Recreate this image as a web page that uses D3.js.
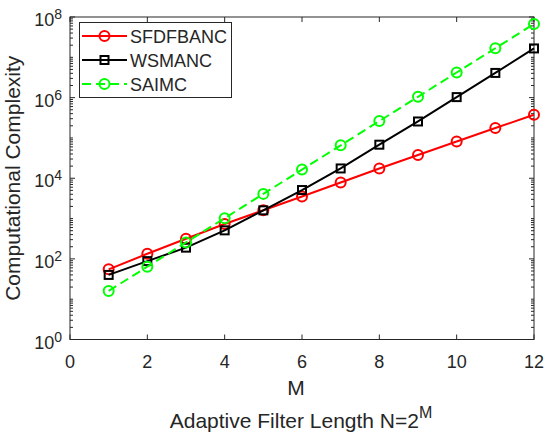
<!DOCTYPE html>
<html>
<head>
<meta charset="utf-8">
<script src="https://cdn.jsdelivr.net/npm/d3@7"></script>
<style>
  body { margin: 0; background: #fff; }
  text { font-family: "Liberation Sans", Arial, sans-serif; fill: #262626; }
</style>
</head>
<body>
<div id="chart"></div>
<script>
(function() {
  // values
  const mValues = [1, 2, 3, 4, 5, 6, 7, 8, 9, 10, 11, 12];
  const sfdfbanc = [55, 134, 316, 735, 1610, 3520, 7860, 17500, 37800, 81300, 176000, 376000];
  const wsmanc = [40, 88, 190, 510, 1600, 5100, 17500, 68000, 256000, 1030000, 4100000, 16600000];
  const saimc = [16, 64, 256, 1024, 4096, 16384, 65536, 262144, 1048576, 4194304, 16777216, 67108864];
  const xTicks = [0, 2, 4, 6, 8, 10, 12];
  const yExponents = [0, 2, 4, 6, 8];
  const seriesNames = ['SFDFBANC', 'WSMANC', 'SAIMC'];

  const width = 550, height = 439;
  const margin = {top: 17, right: 16, bottom: 100, left: 70};
  const axisColor = '#262626';

  const svg = d3.select('#chart').append('svg')
    .attr('width', width)
    .attr('height', height);

  const x = d3.scaleLinear()
    .domain([0, 12])
    .range([margin.left, width - margin.right]);

  const y = d3.scaleLog()
    .domain([1, 1e8])
    .range([height - margin.bottom + 0.5, margin.top]);

  const x0 = x.range()[0], x1 = x.range()[1];
  const yb = y.range()[0], yt = y.range()[1];

  // minor ticks on log axis
  const minor = [];
  for (let k = 0; k < 8; k++) {
    for (let m = 1; m <= 9; m++) {
      const v = m * Math.pow(10, k);
      if (m === 1 && k % 2 === 0) continue;
      minor.push(v);
    }
  }

  const axes = svg.append('g')
    .attr('stroke', axisColor)
    .attr('stroke-width', 1)
    .attr('fill', 'none');

  // x ticks bottom and top (inward)
  axes.selectAll('.xt')
    .data(xTicks)
    .enter().append('path')
      .attr('d', d => `M${x(d)},${yb}V${yb - 5}M${x(d)},${yt}V${yt + 5}`);

  // y major ticks left and right
  axes.selectAll('.ymaj')
    .data(yExponents)
    .enter().append('path')
      .attr('d', d => {
        const yy = y(Math.pow(10, d));
        return `M${x0},${yy}H${x0 + 5}M${x1},${yy}H${x1 - 5}`;
      });

  axes.selectAll('.ymin')
    .data(minor)
    .enter().append('path')
      .attr('d', d => {
        const yy = y(d);
        return `M${x0},${yy}H${x0 + 3}M${x1},${yy}H${x1 - 3}`;
      });

  // box
  axes.append('rect')
    .attr('x', x0)
    .attr('y', yt)
    .attr('width', x1 - x0)
    .attr('height', yb - yt);

  // x tick labels
  svg.selectAll('.xl')
    .data(xTicks)
    .enter().append('text')
      .attr('x', d => x(d))
      .attr('y', yb + 28)
      .attr('text-anchor', 'middle')
      .style('font-size', '18px')
      .text(d => d);

  // y tick labels with superscript
  const yl = svg.selectAll('.yl')
    .data(yExponents)
    .enter().append('text')
      .attr('x', x0 - 8)
      .attr('y', d => y(Math.pow(10, d)) + 9)
      .attr('text-anchor', 'end')
      .style('font-size', '18px');
  yl.append('tspan').text('10');
  yl.append('tspan')
    .attr('dy', -7)
    .style('font-size', '14px')
    .text(d => d);

  // series
  const series = [
    {name: seriesNames[0], values: sfdfbanc, color: '#ff0000', marker: 'circle', dash: null},
    {name: seriesNames[1], values: wsmanc, color: '#000000', marker: 'square', dash: null},
    {name: seriesNames[2], values: saimc, color: '#00ff00', marker: 'circle', dash: '9,5'}
  ];

  const line = d3.line()
    .x((d, i) => x(mValues[i]))
    .y(d => y(d));

  function drawMarker(g, cx, cy, s) {
    if (s.marker === 'circle') {
      g.append('circle')
        .attr('cx', cx).attr('cy', cy).attr('r', 5)
        .attr('fill', 'none')
        .attr('stroke', s.color)
        .attr('stroke-width', 2);
    } else {
      g.append('rect')
        .attr('x', cx - 4).attr('y', cy - 4)
        .attr('width', 8).attr('height', 8)
        .attr('fill', 'none')
        .attr('stroke', s.color)
        .attr('stroke-width', 2);
    }
  }

  series.forEach(s => {
    svg.append('path')
      .datum(s.values)
      .attr('d', line)
      .attr('fill', 'none')
      .attr('stroke', s.color)
      .attr('stroke-width', 2)
      .attr('stroke-dasharray', s.dash);
    const g = svg.append('g');
    s.values.forEach((v, i) => drawMarker(g, x(mValues[i]), y(v), s));
  });

  // legend
  const lg = svg.append('g');
  lg.append('rect')
    .attr('x', 79.5).attr('y', 22.5)
    .attr('width', 152).attr('height', 75)
    .attr('fill', '#fff')
    .attr('stroke', axisColor)
    .attr('stroke-width', 1);
  const legendY = [36, 60, 84];
  series.forEach((s, i) => {
    lg.append('path')
      .attr('d', `M82,${legendY[i]}H127`)
      .attr('stroke', s.color)
      .attr('stroke-width', 2)
      .attr('stroke-dasharray', s.dash);
    drawMarker(lg, 104.5, legendY[i], s);
    lg.append('text')
      .attr('x', 130)
      .attr('y', legendY[i] + 6.5)
      .style('font-size', '18px')
      .text(s.name);
  });

  // axis titles
  svg.append('text')
    .attr('transform', `translate(20,${(yt + yb) / 2}) rotate(-90)`)
    .attr('text-anchor', 'middle')
    .style('font-size', '21px')
    .text('Computational Complexity');

  svg.append('text')
    .attr('x', 296)
    .attr('y', 395)
    .attr('text-anchor', 'middle')
    .style('font-size', '21px')
    .text('M');

  const xt = svg.append('text')
    .attr('x', 301)
    .attr('y', 428)
    .attr('text-anchor', 'middle')
    .style('font-size', '21px');
  xt.append('tspan').text('Adaptive Filter Length N=2');
  xt.append('tspan')
    .attr('dy', -10)
    .style('font-size', '16px')
    .text('M');
})();
</script>
</body>
</html>
